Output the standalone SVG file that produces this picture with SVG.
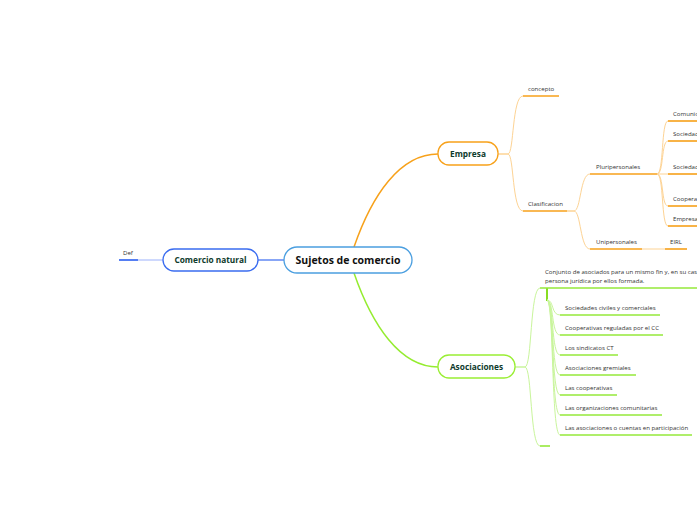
<svg xmlns="http://www.w3.org/2000/svg" width="697" height="520" viewBox="0 0 697 520">
<style>
.lbl{font-family:"Open Sans","Noto Sans","Liberation Sans",sans-serif;font-size:6.1px;fill:#333}
.nd{font-family:"Open Sans","Noto Sans","Liberation Sans",sans-serif;font-size:8.3px;font-weight:bold;fill:#0e3b2c;text-anchor:middle}
.root{font-family:"Open Sans","Noto Sans","Liberation Sans",sans-serif;font-size:10.5px;font-weight:bold;fill:#111;text-anchor:middle}
.oc{fill:none;stroke:#fdd394;stroke-width:1}
.ou{fill:none;stroke:#f7a11a;stroke-width:1.6}
.gc{fill:none;stroke:#c9f59c;stroke-width:1}
.gu{fill:none;stroke:#95e83a;stroke-width:1.6}
</style>
<rect width="697" height="520" fill="#fff"/>
<g id="connectors">
<path d="M354,247 C372,195 400,154 438,154" fill="none" stroke="#f7a11a" stroke-width="1.5"/>
<path d="M354,273 C372,325 400,367 438,367" fill="none" stroke="#95ec30" stroke-width="1.5"/>
<path d="M284,260 H258" fill="none" stroke="#3a6cf0" stroke-width="1.2"/>
<path d="M163,260 H138" fill="none" stroke="#9db2fb" stroke-width="1"/>
<path class="oc" d="M498,154 L508,154 C514,154 512,96 523,96"/>
<path class="oc" d="M498,154 L508,154 C514,154 512,211 523,211"/>
<path class="oc" d="M567,211 L574,211 C581,211 580,174 590,174"/>
<path class="oc" d="M567,211 L574,211 C581,211 580,249 590,249"/>
<path class="oc" d="M642,249 H665"/>
<path class="oc" d="M657,174 C664,174 661,121 668,121"/>
<path class="oc" d="M657,174 C664,174 661,141 668,141"/>
<path class="oc" d="M657,174 H668"/>
<path class="oc" d="M657,174 C664,174 661,206 668,206"/>
<path class="oc" d="M657,174 C664,174 661,226 668,226"/>
<path class="gc" d="M515,367 L525,367 C532,367 530,288 540,288"/>
<path class="gc" d="M515,367 L525,367 C532,367 530,446 540,446"/>
<path d="M547,288 V301" fill="none" stroke="#88dd22" stroke-width="2"/>
<path class="gc" d="M547,300 C554,300 551,315 560,315"/>
<path class="gc" d="M547,300 C554,300 551,335 560,335"/>
<path class="gc" d="M547,300 C554,300 551,355 560,355"/>
<path class="gc" d="M547,300 C554,300 551,375 560,375"/>
<path class="gc" d="M547,300 C554,300 551,395 560,395"/>
<path class="gc" d="M547,300 C554,300 551,415 560,415"/>
<path class="gc" d="M547,300 C554,300 551,435 560,435"/>
</g>
<g id="root">
<rect x="284" y="247" width="128" height="26" rx="13" fill="#fff" stroke="#4b9fe0" stroke-width="1.3"/>
<text class="root" x="348" y="264">Sujetos de comercio</text>
</g>
<g id="comercio-natural">
<rect x="163" y="249" width="95" height="22" rx="11" fill="#fff" stroke="#3a6cf0" stroke-width="1.3"/>
<text class="nd" x="210.5" y="263">Comercio natural</text>
</g>
<g id="def">
<text class="lbl" x="123" y="255">Def</text>
<path d="M119,260 H138" stroke="#2a5df0" stroke-width="1.6"/>
</g>
<g id="empresa">
<rect x="438" y="142" width="60" height="23" rx="11" fill="#fff" stroke="#f7a11a" stroke-width="1.3"/>
<text class="nd" x="468" y="157">Empresa</text>
</g>
<g id="asociaciones">
<rect x="438" y="355" width="77" height="23" rx="11" fill="#fff" stroke="#99ee33" stroke-width="1.3"/>
<text class="nd" x="476.5" y="370">Asociaciones</text>
</g>
<g id="concepto"><text class="lbl" x="528" y="91">concepto</text><path class="ou" d="M523,96 H559"/></g>
<g id="clasificacion"><text class="lbl" x="528" y="206">Clasificacion</text><path class="ou" d="M523,211 H567"/></g>
<g id="pluripersonales"><text class="lbl" x="596" y="169">Pluripersonales</text><path class="ou" d="M590,174 H657"/></g>
<g id="unipersonales"><text class="lbl" x="596" y="244">Unipersonales</text><path class="ou" d="M590,249 H642"/></g>
<g id="eirl"><text class="lbl" x="670" y="244">EIRL</text><path class="ou" d="M665,249 H687"/></g>
<g id="p1"><text class="lbl" x="673" y="116">Comunic</text><path class="ou" d="M668,121 H697"/></g>
<g id="p2"><text class="lbl" x="673" y="136">Sociedad</text><path class="ou" d="M668,141 H697"/></g>
<g id="p3"><text class="lbl" x="673" y="169">Sociedad</text><path class="ou" d="M668,174 H697"/></g>
<g id="p4"><text class="lbl" x="673" y="201">Cooperat</text><path class="ou" d="M668,206 H697"/></g>
<g id="p5"><text class="lbl" x="673" y="221">Empresa</text><path class="ou" d="M668,226 H697"/></g>
<g id="conjunto">
<text class="lbl" x="545" y="274">Conjunto de asociados para un mismo fin y, en su caso</text>
<text class="lbl" x="545" y="283">persona jurídica por ellos formada.</text>
<path class="gu" d="M540,288 H697"/>
</g>
<g id="a1"><text class="lbl" x="565" y="310">Sociedades civiles y comerciales</text><path class="gu" d="M560,315 H660"/></g>
<g id="a2"><text class="lbl" x="565" y="330">Cooperativas reguladas por el CC</text><path class="gu" d="M560,335 H663"/></g>
<g id="a3"><text class="lbl" x="565" y="350">Los sindicatos CT</text><path class="gu" d="M560,355 H618"/></g>
<g id="a4"><text class="lbl" x="565" y="370">Asociaciones gremiales</text><path class="gu" d="M560,375 H636"/></g>
<g id="a5"><text class="lbl" x="565" y="390">Las cooperativas</text><path class="gu" d="M560,395 H617"/></g>
<g id="a6"><text class="lbl" x="565" y="410">Las organizaciones comunitarias</text><path class="gu" d="M560,415 H662"/></g>
<g id="a7"><text class="lbl" x="565" y="430">Las asociaciones o cuentas en participación</text><path class="gu" d="M560,435 H692"/></g>
<g id="empty"><path class="gu" d="M540,446 H550"/></g>
</svg>
